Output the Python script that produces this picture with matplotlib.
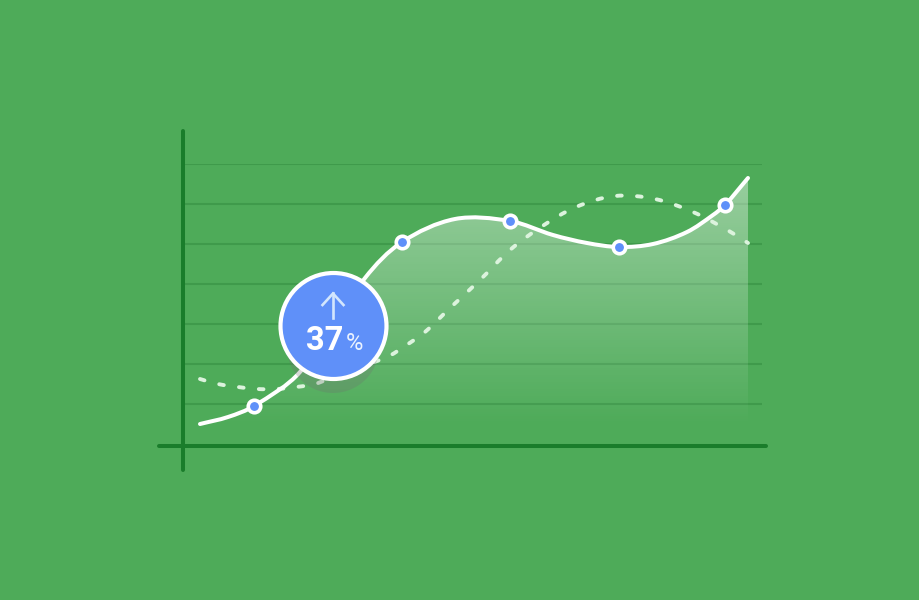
import numpy as np
import matplotlib
matplotlib.use('Agg')
import matplotlib.pyplot as plt
from matplotlib.path import Path
from matplotlib.patches import PathPatch, Circle

W, H = 920, 600

BG = '#4eab59'
AXIS = '#1a7d2b'
GRID = '#3f9a4b'
BLUE = '#5f90f9'

# curva solida
solid_x = [0, 2.8, 5.4, 10, 16.5, 20.2, 25.5, 31, 35.3, 38.7, 41.9, 45.3, 48.7, 51.3, 52.5, 54.8]
solid_y = [0.5, 0.675, 0.95, 1.8, 4.15, 5.05, 5.625, 5.575, 5.225, 5.025, 4.925, 5.0, 5.3, 5.725, 5.975, 6.65]

# curva punteada
dash_x = [0, 1.8, 3.8, 5.7, 7.7, 9.6, 11.5, 14, 18.7, 20.5, 22.5, 25, 28, 31, 34.1, 37.6, 41.5, 45.5, 49.3, 52.9, 54.8]
dash_y = [1.625, 1.5, 1.425, 1.375, 1.375, 1.425, 1.5, 1.75, 2.175, 2.45, 2.8, 3.4, 4.1, 4.85, 5.425, 5.925, 6.2, 6.125, 5.8, 5.325, 5.025]

# puntos marcados sobre la curva solida
point_x = [5.4, 20.2, 31, 41.9, 52.5]
point_y = [0.95, 5.05, 5.575, 4.925, 5.975]

grid_levels = [1, 2, 3, 4, 5, 6, 7]
fill_floor = 0.3
badge_value = '37'
badge_unit = '%'


def smooth_path(xs, ys):
    # Catmull-Rom por longitud de cuerda a Bezier, solo para dibujar la linea suave
    pts = np.column_stack([xs, ys])
    t = np.concatenate([[0], np.cumsum(np.hypot(np.diff(xs) * 10, np.diff(ys) * 40))])
    n = len(pts)
    slopes = np.zeros_like(pts)
    slopes[1:-1] = (pts[2:] - pts[:-2]) / (t[2:] - t[:-2])[:, None]
    slopes[0] = (pts[1] - pts[0]) / (t[1] - t[0])
    slopes[-1] = (pts[-1] - pts[-2]) / (t[-1] - t[-2])
    verts = [pts[0]]
    codes = [Path.MOVETO]
    for i in range(n - 1):
        h = (t[i + 1] - t[i]) / 3
        verts += [pts[i] + slopes[i] * h, pts[i + 1] - slopes[i + 1] * h, pts[i + 1]]
        codes += [Path.CURVE4] * 3
    return np.array(verts), codes


fig = plt.figure(figsize=(W / 100, H / 100), dpi=100, facecolor=BG)

# ejes del grafico: 183-762 px en x, 164-446 px en y
ax = fig.add_axes([183 / W, 1 - 446 / H, (762 - 183) / W, (446 - 164) / H])
ax.patch.set_visible(False)
for s in ax.spines.values():
    s.set_visible(False)
ax.set_xticks([])
ax.set_yticks([])
xlim = (-1.7, 56.2)
ylim = (-0.05, 7)

ax.hlines(grid_levels, xlim[0], xlim[1], color=GRID, lw=1.5, zorder=1)

# area con degradado
verts, codes = smooth_path(solid_x, solid_y)
area_verts = np.vstack([verts, [solid_x[-1], fill_floor], [solid_x[0], fill_floor], verts[0]])
area_codes = codes + [Path.LINETO, Path.LINETO, Path.CLOSEPOLY]
alpha = np.linspace(0.42, 0.0, 256).reshape(-1, 1)
rgba = np.dstack([np.ones_like(alpha)] * 3 + [alpha])
img = ax.imshow(rgba, extent=(solid_x[0], solid_x[-1], 0.45, max(solid_y)), aspect='auto', origin='upper', zorder=2)
img.set_clip_path(PathPatch(Path(area_verts, area_codes), transform=ax.transData))
ax.set_xlim(xlim)
ax.set_ylim(ylim)

# lineas
dv, dc = smooth_path(dash_x, dash_y)
ax.add_patch(PathPatch(Path(dv, dc), fill=False, ec='#dcf3dd', lw=2.8, capstyle='round',
                       linestyle=(0, (1.2, 3.93)), zorder=3, clip_on=False))
ax.add_patch(PathPatch(Path(verts, codes), fill=False, ec='white', lw=2.9, capstyle='round',
                       zorder=4, clip_on=False))
ax.plot(point_x, point_y, 'o', ms=9, mfc=BLUE, mec='white', mew=2.6, zorder=5, clip_on=False)

# capa en pixeles para ejes y la insignia
top = fig.add_axes([0, 0, 1, 1])
top.set_xlim(0, W)
top.set_ylim(H, 0)
top.axis('off')
top.plot([183, 183], [131, 470], color=AXIS, lw=2.9, solid_capstyle='round', zorder=1)
top.plot([159, 766], [446, 446], color=AXIS, lw=2.9, solid_capstyle='round', zorder=1)

top.add_patch(Circle((333, 347), 46, fc='#707070', alpha=0.27, ec='none', zorder=2))
top.add_patch(Circle((333.5, 326), 53, fc=BLUE, ec='white', lw=3, zorder=3))

arrow_color = '#d3e6fd'
top.plot([333, 333], [293, 318], color=arrow_color, lw=1.9, zorder=4)
top.plot([322.5, 333, 343.5], [305, 293.5, 305], color=arrow_color, lw=1.9, zorder=4, solid_joinstyle='miter')

top.text(325, 341, badge_value, color='white', fontsize=23.5, fontweight='bold', family='Roboto',
         ha='center', va='center', zorder=4)
top.text(354, 343.5, badge_unit, color='#eaf2ff', fontsize=17, family='Roboto',
         ha='center', va='center', zorder=4)

fig.savefig('out.png', dpi=100, facecolor=BG)
